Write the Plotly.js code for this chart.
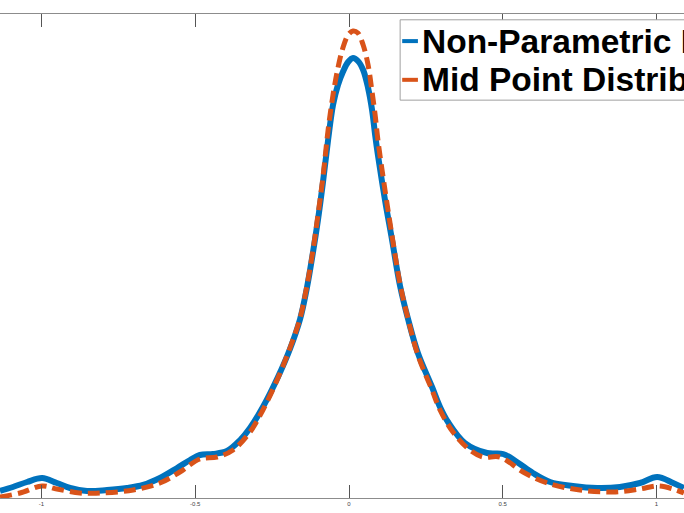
<!DOCTYPE html>
<html>
<head>
<meta charset="utf-8">
<script src="https://cdn.plot.ly/plotly-3.0.1.min.js"></script>
<style>
  html, body { margin: 0; padding: 0; background: #fff; }
  #chart { width: 684px; height: 513px; }
</style>
</head>
<body>
<div id="chart"></div>
<script>
// values (x in data units, y in arbitrary density units)
const xNonParam = [-1.135, -1.093, -1.047, -0.998, -0.950, -0.907, -0.852, -0.787, -0.722, -0.670,
  -0.615, -0.559, -0.517, -0.485, -0.442, -0.397, -0.354, -0.322, -0.280, -0.231,
  -0.192, -0.159, -0.137, -0.117, -0.101, -0.085, -0.068, -0.052, -0.036, -0.020,
  -0.003, 0.013, 0.029, 0.046, 0.062, 0.075, 0.085, 0.094, 0.117, 0.140,
  0.166, 0.192, 0.224, 0.270, 0.296, 0.322, 0.377, 0.449, 0.501, 0.546,
  0.598, 0.654, 0.728, 0.807, 0.881, 0.946, 1.002, 1.054, 1.089];
const yNonParam = [0.07, 0.11, 0.16, 0.20, 0.15, 0.10, 0.07, 0.08, 0.10, 0.13,
  0.20, 0.30, 0.38, 0.43, 0.44, 0.47, 0.58, 0.70, 0.91, 1.21,
  1.49, 1.79, 2.10, 2.46, 2.78, 3.15, 3.58, 3.93, 4.13, 4.26,
  4.36, 4.40, 4.37, 4.28, 4.10, 3.88, 3.63, 3.43, 2.98, 2.58,
  2.12, 1.79, 1.45, 1.11, 0.91, 0.76, 0.55, 0.45, 0.44, 0.36,
  0.25, 0.16, 0.12, 0.10, 0.11, 0.15, 0.21, 0.15, 0.10];

const xMidPoint = [-1.135, -1.070, -0.998, -0.950, -0.875, -0.810, -0.702, -0.615, -0.550, -0.485,
  -0.429, -0.377, -0.322, -0.280, -0.231, -0.192, -0.159, -0.137, -0.117, -0.101,
  -0.085, -0.068, -0.052, -0.036, -0.020, -0.003, 0.013, 0.029, 0.046, 0.062,
  0.075, 0.085, 0.094, 0.117, 0.140, 0.166, 0.192, 0.224, 0.270, 0.296,
  0.338, 0.393, 0.436, 0.491, 0.566, 0.644, 0.751, 0.859, 0.946, 1.005,
  1.054, 1.089];
const yMidPoint = [0.01, 0.05, 0.12, 0.09, 0.05, 0.05, 0.08, 0.15, 0.26, 0.39,
  0.41, 0.48, 0.66, 0.88, 1.20, 1.50, 1.80, 2.12, 2.48, 2.83,
  3.20, 3.68, 4.03, 4.30, 4.50, 4.63, 4.67, 4.65, 4.53, 4.33,
  4.06, 3.83, 3.58, 3.08, 2.62, 2.14, 1.79, 1.43, 1.08, 0.88,
  0.66, 0.48, 0.41, 0.41, 0.26, 0.15, 0.08, 0.06, 0.09, 0.12,
  0.09, 0.05];

const tickVals = [-1, -0.5, 0, 0.5, 1];
const tickText = ["-1", "-0.5", "0", "0.5", "1"];
const seriesNames = ["Non-Parametric Distribution", "Mid Point Distribution"];

const blue = "#0072BD";
const orange = "#D95319";

const nonParamTrace = {
  x: xNonParam,
  y: yNonParam,
  type: "scatter",
  mode: "lines",
  name: seriesNames[0],
  line: { color: blue, width: 6, shape: "spline", smoothing: 1 },
  showlegend: false,
  hoverinfo: "skip",
};

const midPointTrace = {
  x: xMidPoint,
  y: yMidPoint,
  type: "scatter",
  mode: "lines",
  name: seriesNames[1],
  line: { color: orange, width: 5, shape: "spline", smoothing: 1, dash: "12px,6px" },
  showlegend: false,
  hoverinfo: "skip",
};

// hand-made legend box, it runs off the right edge like in the source figure
const legendFont = { family: "Liberation Sans, Arial, sans-serif", size: 33.5, color: "#000", weight: "bold" };
const legendShapes = [
  { type: "rect", xref: "paper", yref: "paper", x0: 0.585, x1: 1.1, y0: 0.822, y1: 0.988,
    line: { color: "#a0a0a0", width: 1 }, fillcolor: "#fff", layer: "above" },
  { type: "line", xref: "paper", yref: "paper", x0: 0.588, x1: 0.611, y0: 0.944, y1: 0.944,
    line: { color: blue, width: 4 }, layer: "above" },
  { type: "line", xref: "paper", yref: "paper", x0: 0.588, x1: 0.611, y0: 0.864, y1: 0.864,
    line: { color: orange, width: 4 }, layer: "above" },
];
const legendNotes = seriesNames.map((name, i) => ({
  xref: "paper", yref: "paper", x: 0.614, y: i === 0 ? 0.944 : 0.864,
  xanchor: "left", yanchor: "middle", showarrow: false,
  text: name, font: legendFont,
}));

const chartLayout = {
  width: 684,
  height: 513,
  margin: { l: 0, r: 0, t: 14, b: 15, pad: 0 },
  paper_bgcolor: "#fff",
  plot_bgcolor: "#fff",
  showlegend: false,
  xaxis: {
    range: [-1.135, 1.0894],
    tickvals: tickVals,
    ticktext: tickText,
    ticks: "inside",
    ticklen: 13,
    tickwidth: 1,
    tickcolor: "#555",
    showline: true,
    linecolor: "#8c8c8c",
    linewidth: 1,
    mirror: "ticks",
    showgrid: false,
    zeroline: false,
    tickfont: { family: "Liberation Sans, Arial, sans-serif", size: 6, color: "#444" },
  },
  yaxis: {
    range: [0, 4.84],
    showticklabels: false,
    showgrid: false,
    zeroline: false,
    showline: false,
    ticks: "",
  },
  shapes: legendShapes,
  annotations: legendNotes,
};

const chartConfig = { displayModeBar: false, staticPlot: true };

Plotly.newPlot("chart", [nonParamTrace, midPointTrace], chartLayout, chartConfig);
</script>
</body>
</html>
